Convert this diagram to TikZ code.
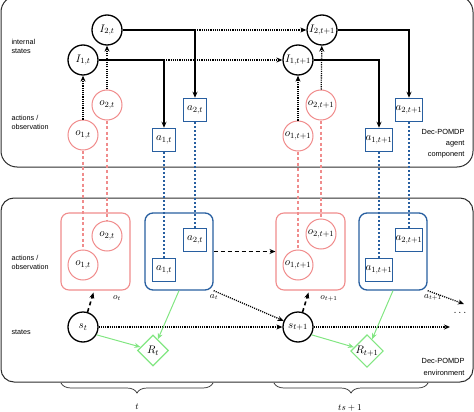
\documentclass[tikz,border=0pt]{standalone}
\usepackage{fontspec}
\setsansfont{Liberation Sans}
\usetikzlibrary{arrows.meta,shapes.geometric,decorations.pathreplacing,calc}
\definecolor{pk}{RGB}{240,140,140}
\definecolor{bl}{RGB}{40,95,160}
\definecolor{gr}{RGB}{130,230,130}
\definecolor{frame}{RGB}{45,45,45}
\begin{document}
\begin{tikzpicture}[x=1pt,y=-1pt,
 mathnode/.style={font=\fontsize{11}{12}\selectfont},
 istate/.style={mathnode,circle,draw=black,line width=1.3pt,minimum size=30pt,inner sep=0pt},
 obs/.style={mathnode,circle,draw=pk,line width=1pt,minimum size=30pt,inner sep=0pt},
 act/.style={mathnode,rectangle,draw=bl,line width=1pt,minimum size=23.5pt,inner sep=0pt},
 rew/.style={mathnode,diamond,draw=gr,line width=1.2pt,minimum size=31pt,inner sep=0pt},
 pbox/.style={draw=pk,line width=1.1pt,rounded corners=8pt,minimum width=69pt,minimum height=77pt,inner sep=0pt},
 bbox/.style={draw=bl,line width=1.3pt,rounded corners=8pt,minimum width=68pt,minimum height=77pt,inner sep=0pt},
 side/.style={font=\sffamily\fontsize{7.2}{9}\selectfont,align=left,anchor=west},
 sider/.style={font=\sffamily\fontsize{7.4}{11.3}\selectfont,align=right,anchor=east},
 setlab/.style={font=\fontsize{9}{10}\selectfont},
 tipk/.style={-{Stealth[length=6pt,width=5pt]}},
 solidarr/.style={tipk,line width=1.4pt},
 dotarr/.style={tipk,line width=1.3pt,dash pattern=on 1.1pt off 1.1pt},
 dasharr/.style={tipk,line width=1.6pt,dash pattern=on 4pt off 3pt},
 pkdash/.style={draw=pk,line width=1.1pt,dash pattern=on 3pt off 2.5pt},
 bldash/.style={draw=bl,line width=1.3pt,dash pattern=on 2pt off 2pt},
 grarr/.style={draw=gr,line width=1pt,-{Stealth[length=6pt,width=5pt]}},
 framebox/.style={draw=frame,line width=1pt},
 bracestyle/.style={draw=frame,line width=0.7pt,decorate,decoration={brace,mirror,amplitude=10pt}}
]
\useasboundingbox (0,0) rectangle (474,412);
% frames
\draw[framebox,rounded corners=16pt] (1,-4) rectangle (473,167);
\draw[framebox,rounded corners=13pt] (1,198) rectangle (473,382);

% side labels
\node[side] (l1) at (8,46.5) {internal\\states};
\node[side] (l2) at (8,122.5) {actions /\\observation};
\node[side] (l3) at (8,262) {actions /\\observation};
\node[side] (l4) at (8,332) {states};
\node[sider] (l5) at (468,143.5) {Dec-POMDP\\agent\\component};
\node[sider] (l6) at (468,367) {Dec-POMDP\\environment};

% boxes
\node[pbox] (pbt) at (95.5,251.5) {};
\node[bbox] (bbt) at (179,251.5) {};
\node[pbox] (pbu) at (310.5,251.5) {};
\node[bbox] (bbu) at (393,251.5) {};

% agent component, time t
\node[istate] (I2t) at (107,30) {$I_{2,t}$};
\node[istate] (I1t) at (83,60) {$I_{1,t}$};
\node[obs] (o2t) at (107,105) {$o_{2,t}$};
\node[obs] (o1t) at (83,135) {$o_{1,t}$};
\node[act] (a1t) at (164,140) {$a_{1,t}$};
\node[act] (a2t) at (195,110) {$a_{2,t}$};
% time t+1
\node[istate] (I2u) at (322,30) {$I_{2,t+1}$};
\node[istate] (I1u) at (298,60) {$I_{1,t+1}$};
\node[obs] (o2u) at (321,105) {$o_{2,t+1}$};
\node[obs] (o1u) at (298,136) {$o_{1,t+1}$};
\node[act] (a1u) at (379,140) {$a_{1,t+1}$};
\node[act] (a2u) at (409,110) {$a_{2,t+1}$};

% environment, time t
\node[obs] (o2tb) at (107,236) {$o_{2,t}$};
\node[obs] (o1tb) at (83,265) {$o_{1,t}$};
\node[act] (a2tb) at (195,240) {$a_{2,t}$};
\node[act] (a1tb) at (164,270) {$a_{1,t}$};
\node[istate] (st) at (83,327) {$s_t$};
\node[rew] (Rt) at (153,350.5) {$R_t$};
% time t+1
\node[obs] (o2ub) at (321,234) {$o_{2,t+1}$};
\node[obs] (o1ub) at (298,265) {$o_{1,t+1}$};
\node[act] (a2ub) at (409,240) {$a_{2,t+1}$};
\node[act] (a1ub) at (379,270) {$a_{1,t+1}$};
\node[istate] (su) at (298,327) {$s_{t+1}$};
\node[rew] (Ru) at (367,351) {$R_{t+1}$};

% set labels
\node[setlab] (ot) at (117,298) {$o_t$};
\node[setlab] (at) at (214,297) {$a_t$};
\node[setlab] (ou) at (329,298) {$o_{t+1}$};
\node[setlab] (au) at (433,297) {$a_{t+1}$};
\node[font=\fontsize{11}{12}\selectfont] (dots) at (460,313) {$\ldots$};
\coordinate (endS) at (450,327);
\coordinate (endA) at (464,304);

% agent connections
\draw[solidarr] (I2t) -| (a2t);
\draw[solidarr] (I1t) -| (a1t);
\draw[dotarr] (a2t |- I2t) -- (I2u);
\draw[dotarr] (a1t |- I1t) -- (I1u);
\draw[dotarr] (o1t) -- (I1t);
\draw[dotarr] (o2t) -- (I2t);
\draw[solidarr] (I2u) -| (a2u);
\draw[solidarr] (I1u) -| (a1u);
\draw[dotarr] (o1u) -- (I1u);
\draw[dotarr] (o2u) -- (I2u);

% links between components
\draw[pkdash] (o1t) -- (o1tb);
\draw[pkdash] (o2t) -- (o2tb);
\draw[bldash] (a1t) -- (a1tb);
\draw[bldash] (a2t) -- (a2tb);
\draw[pkdash] (o1u) -- (o1ub);
\draw[pkdash] (o2u) -- (o2ub);
\draw[bldash] (a1u) -- (a1ub);
\draw[bldash] (a2u) -- (a2ub);

% environment connections
\draw[dasharr] (st) -- ($(pbt.south)+(-2,2)$);
\draw[dasharr] (su) -- ($(pbu.south)+(-2,2)$);
\draw[dasharr] (bbt) -- (pbu);
\draw[dotarr] (st) -- (su);
\draw[dotarr] (bbt.south east) -- (su);
\draw[dotarr] (su) -- (endS);
\draw[dotarr] (bbu.south east) -- (endA);
\draw[grarr] (st.-30) -- (Rt);
\draw[grarr] (bbt.south) -- (Rt);
\draw[grarr] (su.-30) -- (Ru);
\draw[grarr] (bbu.south) -- (Ru);

% braces
\draw[bracestyle] (61,383) -- (213,383);
\draw[bracestyle] (274,383) -- (428,383);
\node[setlab] (bt) at (137,407) {$t$};
\node[setlab] (bu) at (350,408) {$ts+1$};
\end{tikzpicture}
\end{document}
